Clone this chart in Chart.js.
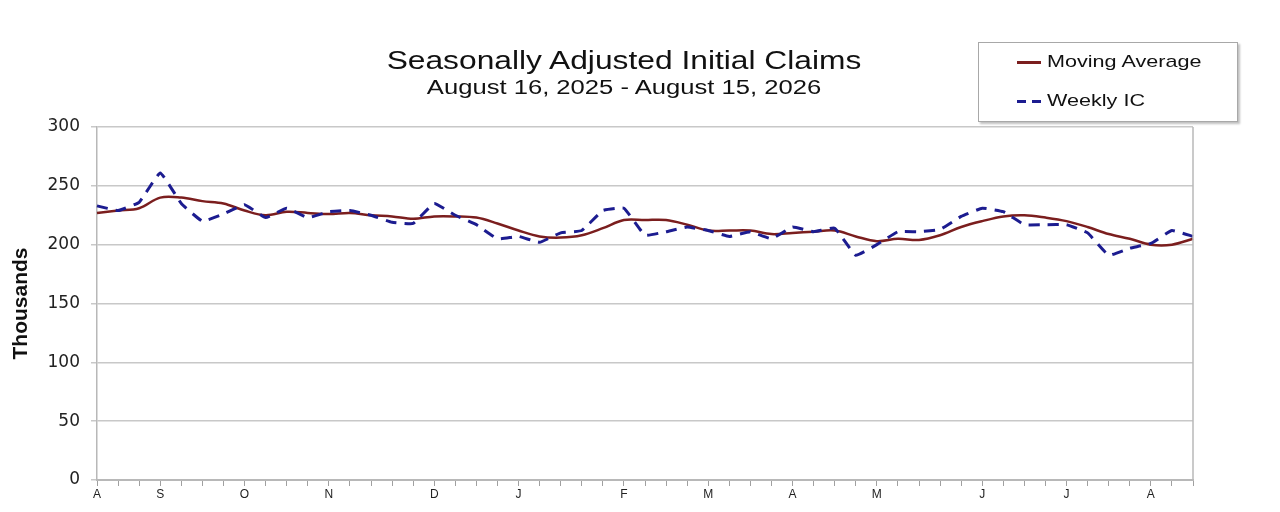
<!DOCTYPE html>
<html>
<head>
<meta charset="utf-8">
<script src="https://cdn.jsdelivr.net/npm/chart.js@4.4.1/dist/chart.umd.min.js"></script>
<style>
  html, body { margin: 0; padding: 0; background: #fff; }
  #wrap { position: relative; width: 1280px; height: 512px; font-family: "Liberation Sans", Arial, sans-serif; color: #111; }
  #chart { position: absolute; left: 0; top: 0; }
  .title { position: absolute; left: 0; width: 1248px; text-align: center; white-space: nowrap; transform-origin: 624px 0; }
  #t1 { top: 46px; font-size: 25px; transform: scaleX(1.27); }
  #t2 { top: 76px; font-size: 20px; transform: scaleX(1.28); }
  #legend {
    position: absolute; left: 978px; top: 42px; width: 258px; height: 78px;
    border: 1px solid #a8a8a8; box-shadow: 2px 2px 2px rgba(0,0,0,0.25); background: #fff;
  }
  .item { position: absolute; left: 38px; white-space: nowrap; }
  .item span.mk { display: inline-block; width: 24px; height: 3px; vertical-align: middle; margin-right: 6px; }
  .item span.tx { display: inline-block; font-size: 17px; transform: scaleX(1.27); transform-origin: 0 50%; }
  #li1 { top: 9px; }
  #li2 { top: 48px; }
  #li1 .mk { background: #7b1e1e; }
  #li2 .mk { background: repeating-linear-gradient(90deg, #1c1c90 0 9px, transparent 9px 15px); }
</style>
</head>
<body>
<div id="wrap">
  <canvas id="chart" width="1280" height="512"></canvas>
  <div class="title" id="t1">Seasonally Adjusted Initial Claims</div>
  <div class="title" id="t2">August 16, 2025 - August 15, 2026</div>
  <div id="legend">
    <div class="item" id="li1"><span class="mk"></span><span class="tx">Moving Average</span></div>
    <div class="item" id="li2"><span class="mk"></span><span class="tx">Weekly IC</span></div>
  </div>
</div>
<script>
// weekly points, Aug 16 2025 .. Aug 15 2026 (53 weeks), month letter where a month starts
const weekTicks = [
  'A', '', '', 'S', '', '', '', 'O', '', '', '', 'N', '', '', '', '', 'D', '', '', '', 'J', '', '', '', '',
  'F', '', '', '', 'M', '', '', '', 'A', '', '', '', 'M', '', '', '', '', 'J', '', '', '', 'J', '', '', '', 'A', '', ''
];

// thousands
const weeklyIC = [
  233, 229, 236, 261, 235, 220, 226, 234, 223, 231, 223, 228, 229, 225, 219, 218, 235, 225, 217, 205,
  207, 202, 210, 212, 229, 231, 208, 211, 215, 212, 207, 211, 205, 215, 211, 214, 191, 200, 211, 211,
  213, 224, 231, 228, 217, 217, 217, 210, 191, 197, 201, 212, 207
];

const movingAvg = [
  227, 229, 231, 240, 240, 237, 235, 229, 225, 228, 227, 226, 227, 225, 224, 222, 224, 224, 223, 218,
  212, 207, 206, 208, 214, 221, 221, 221, 217, 212, 212, 212, 209, 210, 211, 212, 207, 203, 205, 204,
  208, 215, 220, 224, 225, 223, 220, 215, 209, 205, 200, 200, 205
];

const yTicks = { min: 0, max: 300, step: 50 };

// right-hand edge of the plot box
const plotFrame = {
  id: 'plotFrame',
  afterDatasetsDraw(chart) {
    const { ctx, chartArea } = chart;
    ctx.save();
    ctx.strokeStyle = '#b8b8b8';
    ctx.lineWidth = 1.5;
    ctx.beginPath();
    ctx.moveTo(chartArea.right, chartArea.top);
    ctx.lineTo(chartArea.right, chartArea.bottom);
    ctx.stroke();
    ctx.restore();
  }
};

Chart.defaults.font.family = "'Liberation Sans', Arial, sans-serif";

new Chart(document.getElementById('chart').getContext('2d'), {
  type: 'line',
  data: {
    labels: weekTicks,
    datasets: [
      {
        label: 'Weekly IC',
        data: weeklyIC,
        borderColor: '#1c1c90',
        borderWidth: 3,
        borderDash: [11, 8],
        pointRadius: 0,
        tension: 0.1,
        fill: false
      },
      {
        label: 'Moving Average',
        data: movingAvg,
        borderColor: '#7b1e1e',
        borderWidth: 2.5,
        pointRadius: 0,
        tension: 0.35,
        fill: false
      }
    ]
  },
  options: {
    responsive: false,
    animation: false,
    devicePixelRatio: 1,
    layout: { padding: { top: 127, right: 87, bottom: 0, left: 0 } },
    plugins: {
      legend: { display: false },
      tooltip: { enabled: false }
    },
    scales: {
      x: {
        type: 'category',
        offset: false,
        afterFit: (s) => { s.height = 32; },
        grid: { display: true, drawOnChartArea: false, drawTicks: true, tickLength: 6, color: '#a0a0a0' },
        border: { display: true, color: '#b8b8b8', width: 2 },
        ticks: {
          autoSkip: false,
          maxRotation: 0,
          minRotation: 0,
          padding: 1,
          color: '#222',
          font: { size: 12 }
        }
      },
      y: {
        min: yTicks.min,
        max: yTicks.max,
        afterFit: (s) => { s.width = 97; },
        grid: { color: '#c8c8c8', lineWidth: 1.5, tickLength: 6 },
        border: { display: true, color: '#b8b8b8', width: 1.5 },
        ticks: {
          stepSize: yTicks.step,
          padding: 11,
          color: '#222',
          font: { family: "'DejaVu Sans', sans-serif", size: 17 }
        },
        title: {
          display: true,
          text: 'Thousands',
          color: '#111',
          font: { size: 21, weight: 'bold' },
          padding: { top: 9, bottom: 0 }
        }
      }
    }
  },
  plugins: [plotFrame]
});
</script>
</body>
</html>
